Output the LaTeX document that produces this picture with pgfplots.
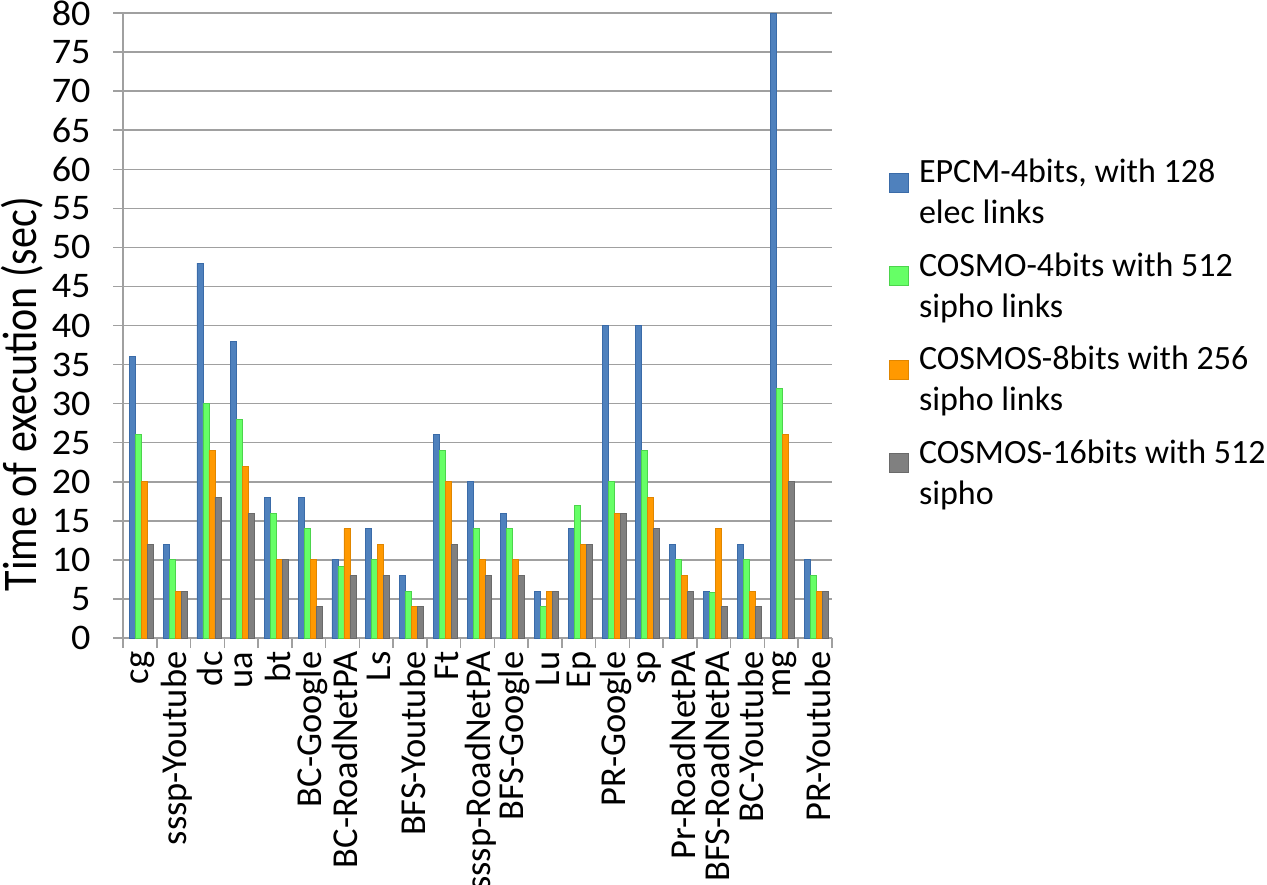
\documentclass[border=0pt]{standalone}
\usepackage{pgfplots}
\usepackage{pgfplotstable}
\pgfplotsset{compat=1.18}
\usepackage{fontspec}
\setmainfont{Carlito}
\newfontfamily\tickfont{Carlito}[FakeStretch=1.06]
\definecolor{cBlue}{HTML}{4F81BD}
\definecolor{cBlueD}{HTML}{3A6BA8}
\definecolor{cGreen}{HTML}{66FF66}
\definecolor{cGreenD}{HTML}{4CD44C}
\definecolor{cOrange}{HTML}{FF9900}
\definecolor{cOrangeD}{HTML}{E08600}
\definecolor{cGray}{HTML}{808080}
\definecolor{cGrayD}{HTML}{6A6A6A}
\definecolor{cGrid}{HTML}{A0A0A0}
\pgfplotstableread{
x a b c d
0 36 26 20 12
1 12 10 6 6
2 48 30 24 18
3 38 28 22 16
4 18 16 10 10
5 18 14 10 4
6 10 9.2 14 8
7 14 10 12 8
8 8 6 4 4
9 26 24 20 12
10 20 14 10 8
11 16 14 10 8
12 6 4 6 6
13 14 17 12 12
14 40 20 16 16
15 40 24 18 14
16 12 10 8 6
17 6 5.8 14 4
18 12 10 6 4
19 80 32 26 20
20 10 8 6 6
}\data
\begin{document}
\begin{tikzpicture}
\begin{axis}[
  at={(123pt,-638pt)}, anchor=south west,
  scale only axis, width=709pt, height=625pt,
  ymin=0, ymax=80, ytick={0,5,...,80},
  xmin=-0.5, xmax=20.5,
  xtick={0,...,20},
  xticklabels={cg,sssp-Youtube,dc,ua,bt,BC-Google,BC-RoadNetPA,Ls,BFS-Youtube,Ft,sssp-RoadNetPA,BFS-Google,Lu,Ep,PR-Google,sp,Pr-RoadNetPA,BFS-RoadNetPA,BC-Youtube,mg,PR-Youtube},
  minor xtick={-0.5,0.5,...,20.5},
  x tick style={draw=none},
  minor x tick style={draw=cGrid, line width=1.5pt},
  minor tick length=10pt,
  y tick style={draw=cGrid, line width=1.5pt},
  major tick length=10pt,
  tick align=outside,
  axis x line*=bottom, axis y line*=left,
  axis line style={draw=cGrid, line width=1.5pt, -},
  ymajorgrids, grid style={draw=cGrid, line width=1.5pt},
  ybar=0pt, bar width=6pt,
  /pgf/number format/assume math mode=true,
  yticklabel style={font=\tickfont\fontsize{36}{38}\selectfont, xshift=-19pt, inner ysep=0pt},
  xticklabel style={rotate=90, anchor=east, font=\fontsize{36.5}{38}\selectfont, yshift=-3pt},
  ylabel={\scalebox{1}[1.15]{Time of execution (sec)}},
  ylabel style={font=\fontsize{42}{44}\selectfont, at={(axis description cs:-0.1425,0.39)}, anchor=center},
  legend image code/.code={\fill[#1] (0pt,0pt) rectangle (19pt,19pt);},
  legend style={at={(axis description cs:1.0804,0.770)}, anchor=north west, draw=none, fill=none,
    font=\fontsize{34}{41}\selectfont, inner sep=0pt, row sep=23.5pt, column sep=8pt,
    cells={anchor=west, align=left}},
]
\addplot[fill=cBlue, draw=cBlueD, line width=0.8pt, xshift=1.5pt] table[x=x,y=a]{\data};
\addlegendentry{EPCM-4bits, with 128\\elec links}
\addplot[fill=cGreen, draw=cGreenD, line width=0.8pt, xshift=1.5pt] table[x=x,y=b]{\data};
\addlegendentry{COSMO-4bits with 512\\sipho links}
\addplot[fill=cOrange, draw=cOrangeD, line width=0.8pt, xshift=1.5pt] table[x=x,y=c]{\data};
\addlegendentry{COSMOS-8bits with 256\\sipho links}
\addplot[fill=cGray, draw=cGrayD, line width=0.8pt, xshift=1.5pt] table[x=x,y=d]{\data};
\addlegendentry{COSMOS-16bits with 512\\sipho}
\end{axis}
\pgfresetboundingbox
\path (0,0) rectangle (1267pt,-885pt);
\end{tikzpicture}
\end{document}
